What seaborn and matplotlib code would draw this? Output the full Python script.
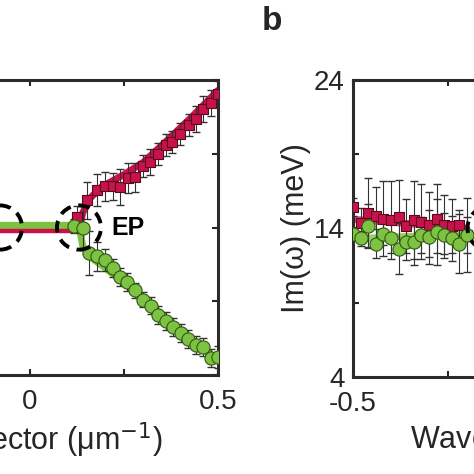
import numpy as np
import pandas as pd
import matplotlib
matplotlib.use("Agg")
import matplotlib.pyplot as plt
import seaborn as sns
from matplotlib.patches import Ellipse

RED = "#c8124a"
GREEN = "#7dc242"

# --- panel a (Re part), only right half visible ---
a_red_x = [0.125, 0.152, 0.178, 0.199, 0.221, 0.239, 0.261, 0.279, 0.301, 0.319,
           0.340, 0.362, 0.378, 0.399, 0.423, 0.441, 0.460, 0.481, 0.500]
a_red_y = [2.14, 2.37, 2.51, 2.56, 2.56, 2.55, 2.67, 2.68, 2.83, 2.89,
           3.00, 3.12, 3.16, 3.27, 3.39, 3.47, 3.61, 3.69, 3.81]
a_red_err = [0.15, 0.25, 0.22, 0.2, 0.18, 0.25, 0.2, 0.2, 0.15, 0.18,
             0.15, 0.15, 0.15, 0.15, 0.15, 0.18, 0.18, 0.18, 0.18]
a_green_x = [0.117, 0.141, 0.157, 0.178, 0.199, 0.221, 0.239, 0.258, 0.279, 0.301,
             0.322, 0.340, 0.362, 0.380, 0.402, 0.420, 0.441, 0.460, 0.481, 0.500]
a_green_y = [2.02, 1.99, 1.65, 1.61, 1.56, 1.45, 1.33, 1.26, 1.15, 1.02,
             0.94, 0.81, 0.73, 0.65, 0.57, 0.49, 0.41, 0.38, 0.23, 0.24]
a_green_err = [0.1, 0.3, 0.3, 0.2, 0.15, 0.12, 0.12, 0.12, 0.1, 0.1,
               0.12, 0.12, 0.12, 0.12, 0.12, 0.12, 0.12, 0.12, 0.12, 0.15]
a_red_line_x = [-0.5, 0.13, 0.14, 0.16, 0.19, 0.25, 0.30, 0.36, 0.43, 0.50]
a_red_line_y = [1.97, 1.97, 2.2, 2.4, 2.55, 2.72, 2.88, 3.16, 3.5, 3.86]
a_green_line_x = [-0.5, 0.13, 0.14, 0.16, 0.20, 0.25, 0.30, 0.35, 0.40, 0.45, 0.50]
a_green_line_y = [2.03, 2.03, 1.75, 1.6, 1.45, 1.25, 1.05, 0.82, 0.6, 0.4, 0.2]

# --- panel b (Im part), only left edge visible ---
b_x = [-0.50, -0.48, -0.46, -0.44, -0.42, -0.40, -0.38, -0.36, -0.34, -0.32,
       -0.30, -0.28, -0.26, -0.24, -0.22, -0.20]
b_red = [15.45, 14.35, 15.05, 14.85, 14.65, 14.55, 14.75, 14.15, 14.55, 14.45,
         14.25, 14.65, 14.25, 14.15, 14.25, 13.55]
b_red_err = [0.6, 1.0, 2.3, 1.9, 2.5, 2.6, 2.5, 1.8, 2.6, 2.5, 2.2, 2.3, 2.0, 1.8, 1.0, 1.2]
b_green = [13.64, 13.31, 14.15, 12.97, 13.64, 13.31, 12.63, 13.04, 13.04, 13.53,
           13.41, 13.75, 13.53, 13.31, 12.97, 13.53]
b_green_err = [0.3, 0.5, 1.5, 1.0, 0.8, 1.0, 1.7, 1.2, 1.5, 1.2, 1.8, 2.2, 1.5, 1.5, 2.0, 2.5]
b_red_line = [14.6, 14.0]
b_green_line = [13.3, 13.6]
b_line_x = [-0.5, -0.2]

sns.set_style("ticks")
plt.rcParams["font.family"] = ["Liberation Sans", "DejaVu Sans"]

fig = plt.figure(figsize=(4.74, 4.74), dpi=100)
axa = fig.add_axes([-0.333, 0.209, 0.793, 0.622])
axb = fig.add_axes([0.745, 0.205, 0.80, 0.627])


def style(ax):
    for s in ax.spines.values():
        s.set_linewidth(2.2)
        s.set_color("#2b2b2b")
    ax.tick_params(direction="in", length=4, width=1.5, top=True, right=True,
                   labelsize=20, pad=6)
    ax.tick_params(axis="x", pad=10)


# panel a
sns.lineplot(x=a_red_line_x, y=a_red_line_y, ax=axa, color=RED, lw=5, sort=False)
sns.lineplot(x=a_green_line_x, y=a_green_line_y, ax=axa, color=GREEN, lw=5, sort=False)
axa.errorbar(a_red_x, a_red_y, yerr=a_red_err, fmt="none", ecolor="#333", elinewidth=0.8, capsize=3)
axa.errorbar(a_green_x, a_green_y, yerr=a_green_err, fmt="none", ecolor="#333", elinewidth=0.8, capsize=3)
sns.scatterplot(x=a_red_x, y=a_red_y, ax=axa, marker="s", s=55, color=RED, edgecolor="#5a0a20", linewidth=0.8, zorder=5)
sns.scatterplot(x=a_green_x, y=a_green_y, ax=axa, marker="o", s=90, color=GREEN, edgecolor="#2f5a10", linewidth=0.8, zorder=5)
for cx in [0.13, -0.08]:
    axa.add_patch(Ellipse((cx, 2.0), 0.117, 0.6, fill=False, ls=(0, (3, 2)), lw=2.8, color="black", zorder=6))
axa.text(0.215, 2.0, "EP", fontsize=18, fontweight="bold", color="black", va="center", ha="left")
axa.set_xlim(-0.5, 0.5)
axa.set_ylim(0, 4)
axa.set_xticks([-0.5, -0.25, 0, 0.25, 0.5])
axa.set_xticklabels(["-0.5", "", "0", "", "0.5"])
axa.set_yticks([0, 1, 2, 3, 4])
axa.set_yticklabels([])
axa.set_xlabel("Wavevector (μm$^{-1}$)", fontsize=22, labelpad=4)
style(axa)

# panel b
sns.lineplot(x=b_line_x, y=b_red_line, ax=axb, color=RED, lw=5, alpha=0.8)
sns.lineplot(x=b_line_x, y=b_green_line, ax=axb, color=GREEN, lw=5, alpha=0.8)
axb.errorbar(b_x, b_red, yerr=b_red_err, fmt="none", ecolor="#333", elinewidth=0.8, capsize=3)
axb.errorbar(b_x, b_green, yerr=b_green_err, fmt="none", ecolor="#333", elinewidth=0.8, capsize=3)
sns.scatterplot(x=b_x, y=b_red, ax=axb, marker="s", s=55, color=RED, edgecolor="#5a0a20", linewidth=0.8, zorder=5)
sns.scatterplot(x=b_x, y=b_green, ax=axb, marker="o", s=90, color=GREEN, edgecolor="#2f5a10", linewidth=0.8, zorder=5)
axb.add_patch(Ellipse((-0.14, 14.0), 0.117, 2.96, fill=False, ls=(0, (3, 2)), lw=2.8, color="black", zorder=6))
axb.set_xlim(-0.5, 0.5)
axb.set_ylim(4, 24)
axb.set_xticks([-0.5, -0.25, 0, 0.25, 0.5])
axb.set_xticklabels(["-0.5", "", "0", "", "0.5"])
axb.set_yticks([4, 9, 14, 19, 24])
axb.set_yticklabels(["4", "", "14", "", "24"])
axb.set_ylabel("Im(ω) (meV)", fontsize=22, labelpad=2)
axb.set_xlabel("Wavevector (μm$^{-1}$)", fontsize=22, labelpad=2)
style(axb)

fig.text(0.553, 0.955, "b", fontsize=24, fontweight="bold", va="center")

fig.savefig("out.png", dpi=100)
